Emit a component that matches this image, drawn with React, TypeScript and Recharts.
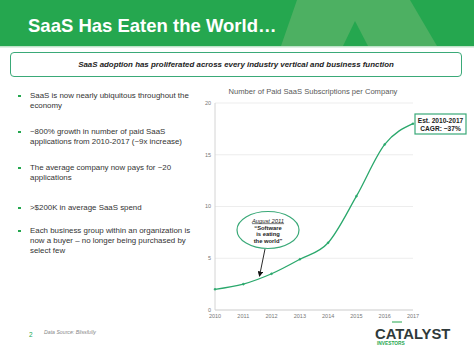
import React from "react";
import { LineChart, Line, XAxis, YAxis, CartesianGrid } from "recharts";

const years = ["2010", "2011", "2012", "2013", "2014", "2015", "2016", "2017"];
const subscriptions = [2.0, 2.5, 3.5, 4.9, 6.5, 11, 16, 18];
const yTicks = [0, 5, 10, 15, 20];

const bullets = [
  ["SaaS is now nearly ubiquitous throughout the", "economy"],
  ["~800% growth in number of paid SaaS", "applications from 2010-2017 (~9x increase)"],
  ["The average company now pays for ~20", "applications"],
  [">$200K in average SaaS spend"],
  ["Each business group within an organization is", "now a buyer \u2013 no longer being purchased by", "select few"],
];
const bulletTops = [91, 127, 163, 203, 226];

const GREEN = "#25a74f";
const LINE_GREEN = "#2aa86c";
const BOX_GREEN = "#3aa978";

export default function App() {
  const data = years.map((year, i) => ({ year, value: subscriptions[i] }));

  return (
    <div
      style={{
        position: "absolute",
        left: 0,
        top: 0,
        width: 474,
        height: 355,
        overflow: "hidden",
        background: "#fff",
        fontFamily: "'Liberation Sans', Arial, sans-serif",
      }}
    >
      {/* header band */}
      <svg width={474} height={48} style={{ position: "absolute", left: 0, top: 0 }}>
        <rect x={0} y={0} width={474} height={46} fill={GREEN} />
        <polygon points="281,46 297,0 410,0 437,46" fill="#4db062" />
        <polygon points="343,46 355,21 368,46" fill={GREEN} />
        <rect x={0} y={46} width={474} height={1.5} fill="#bfe3c9" />
      </svg>
      <div
        style={{
          position: "absolute",
          left: 28,
          top: 15,
          fontSize: 18.5,
          fontWeight: 700,
          color: "#fff",
          whiteSpace: "nowrap",
        }}
      >
        SaaS Has Eaten the World…
      </div>

      {/* subtitle box */}
      <div
        style={{
          position: "absolute",
          left: 10,
          top: 52,
          width: 450,
          height: 23,
          border: `1.5px solid ${BOX_GREEN}`,
          borderRadius: 4,
          display: "flex",
          alignItems: "center",
          justifyContent: "center",
          fontSize: 7.9,
          fontWeight: 700,
          fontStyle: "italic",
          color: "#222",
        }}
      >
        SaaS adoption has proliferated across every industry vertical and business function
      </div>

      {/* bullets */}
      {bullets.map((lines, i) => (
        <div key={i} style={{ position: "absolute", left: 18, top: bulletTops[i], display: "flex" }}>
          <div style={{ width: 2.5, height: 2.5, background: GREEN, marginTop: 3.5, marginRight: 9.5 }} />
          <div style={{ fontSize: 7.9, lineHeight: "10px", color: "#333" }}>
            {lines.map((l, j) => (
              <div key={j} style={{ whiteSpace: "nowrap" }}>
                {l}
              </div>
            ))}
          </div>
        </div>
      ))}

      {/* chart title */}
      <div
        style={{
          position: "absolute",
          left: 195,
          width: 236,
          top: 87,
          textAlign: "center",
          fontSize: 7.6,
          color: "#595959",
          whiteSpace: "nowrap",
        }}
      >
        Number of Paid SaaS Subscriptions per Company
      </div>

      {/* chart */}
      <div style={{ position: "absolute", left: 185, top: 95 }}>
        <LineChart width={250} height={240} data={data} margin={{ top: 8, right: 22, bottom: 10, left: 8 }}>
          <CartesianGrid vertical={false} stroke="#e9e9e9" strokeWidth={0.8} />
          <XAxis
            dataKey="year"
            height={15}
            tickSize={0}
            tickMargin={4}
            axisLine={{ stroke: "#d4d4d4" }}
            tickLine={false}
            tick={{ fontSize: 5.5, fill: "#777" }}
            interval={0}
          />
          <YAxis
            width={22}
            domain={[0, 20]}
            ticks={yTicks}
            tickSize={0}
            tickMargin={4}
            axisLine={{ stroke: "#d4d4d4" }}
            tickLine={false}
            tick={{ fontSize: 5.5, fill: "#777" }}
          />
          <Line
            type="monotone"
            dataKey="value"
            stroke={LINE_GREEN}
            strokeWidth={1.3}
            dot={{ r: 1, fill: LINE_GREEN, stroke: LINE_GREEN, strokeWidth: 0.5 }}
            isAnimationActive={false}
          />
        </LineChart>
      </div>

      {/* annotations */}
      <svg width={474} height={355} style={{ position: "absolute", left: 0, top: 0, pointerEvents: "none" }}>
        <defs>
          <marker id="arr" markerWidth="6" markerHeight="6" refX="5" refY="3" orient="auto">
            <path d="M0,0 L6,3 L0,6 Z" fill="#111" />
          </marker>
        </defs>
        <ellipse cx={268} cy={230} rx={31} ry={18.5} fill="#fff" stroke={BOX_GREEN} strokeWidth={1.2} />
        <text x={268} y={222.5} textAnchor="middle" fontSize={5.8} fontStyle="italic" textDecoration="underline" fill="#222">
          August 2011
        </text>
        <text x={268} y={229.5} textAnchor="middle" fontSize={5.8} fontWeight={700} fill="#222">
          “Software
        </text>
        <text x={268} y={236} textAnchor="middle" fontSize={5.8} fontWeight={700} fill="#222">
          is eating
        </text>
        <text x={268} y={242.5} textAnchor="middle" fontSize={5.8} fontWeight={700} fill="#222">
          the world”
        </text>
        <line x1={265} y1={249} x2={259.5} y2={276} stroke="#111" strokeWidth={0.9} markerEnd="url(#arr)" />

        <rect x={415} y={114} width={51} height={20} fill="#fff" stroke={BOX_GREEN} strokeWidth={1.2} />
        <text x={440.5} y={122.5} textAnchor="middle" fontSize={6.6} fontWeight={700} fill="#222">
          Est. 2010-2017
        </text>
        <text x={440.5} y={130.5} textAnchor="middle" fontSize={6.6} fontWeight={700} fill="#222">
          CAGR: ~37%
        </text>

        {/* footer */}
        <text x={29} y={337} fontSize={6.5} fill={GREEN}>
          2
        </text>
        <text x={44} y={334} fontSize={5.2} fontStyle="italic" fill="#888">
          Data Source: Blissfully
        </text>

        {/* logo */}
        <line x1={392} y1={322} x2={402} y2={322} stroke={GREEN} strokeWidth={1} />
        <text x={375} y={338.5} fontSize={14.8} fontWeight={700} fill="#2f3a3a">
          CATALYST
        </text>
        <text x={377} y={344.5} fontSize={4.8} fontWeight={700} fill={GREEN}>
          INVESTORS
        </text>
      </svg>
    </div>
  );
}
